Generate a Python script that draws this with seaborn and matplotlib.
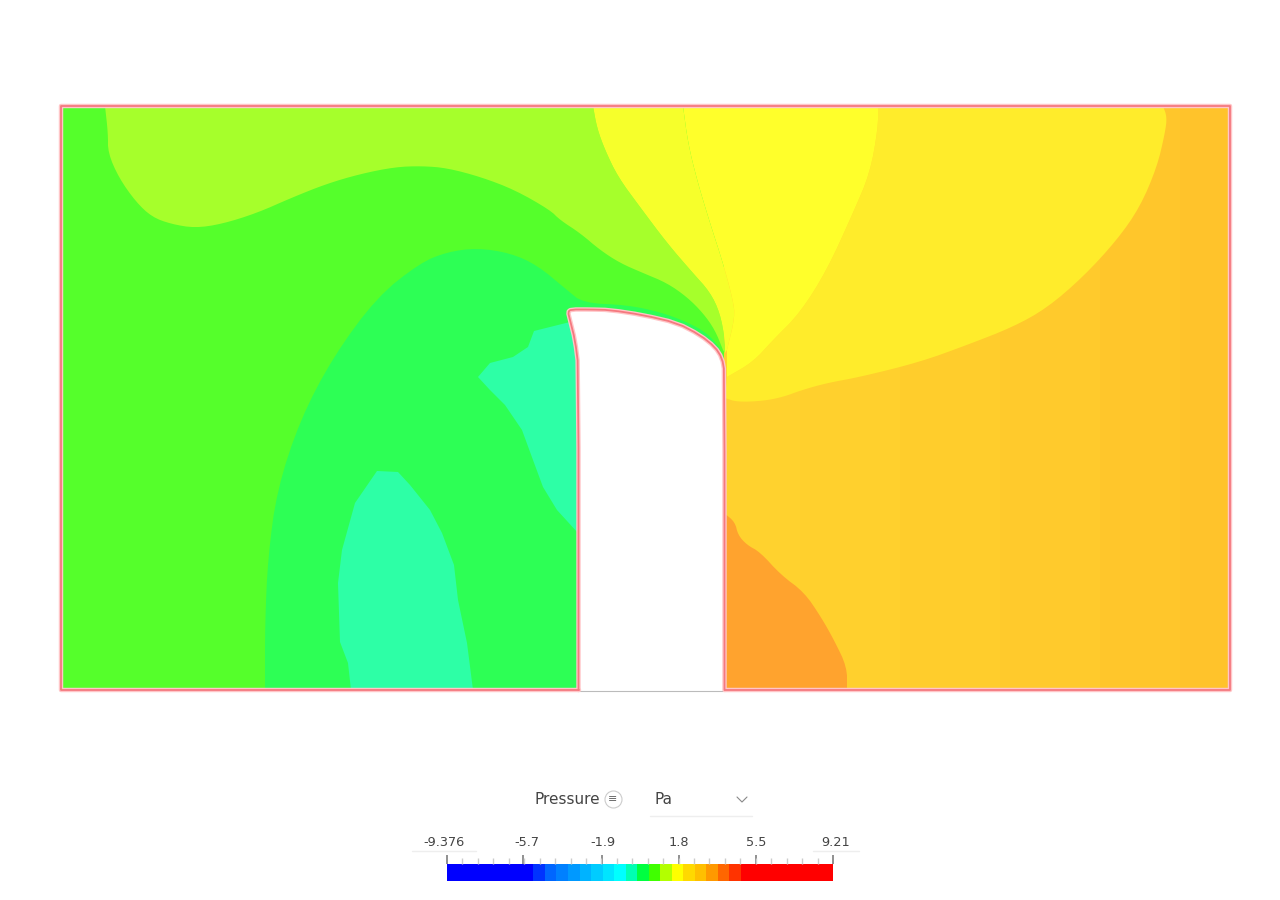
import numpy as np
import matplotlib.pyplot as plt
from matplotlib.colors import ListedColormap
import seaborn as sns

sns.set_theme(style="white")
plt.rcParams['font.family'] = ['DejaVu Sans']

# colour bar
tick_values = [-9.376, -5.7, -1.9, 1.8, 5.5, 9.21]
tick_labels = ["-9.376", "-5.7", "-1.9", "1.8", "5.5", "9.21"]
label_shift = [-3, 4, 1, 0, 0, 3]
bar_colors = ["#0000FF", "#0033FF", "#0066FF", "#0080FF", "#0099FF", "#00B3FF", "#00CCFF",
              "#00E5FF", "#00FFFF", "#00FFB3", "#00FF40", "#40FF00", "#B3FF00", "#FFFF00",
              "#FFD900", "#FFBF00", "#FF9900", "#FF6600", "#FF3300", "#FF0000"]
bar_cells = [15] + [2] * 18 + [16]

# pressure contours (pixels)
domain = [(61, 106), (1230, 106), (1230, 690), (61, 690)]
band_edges = [724, 800, 900, 1000, 1100, 1180, 1230]
band_colors = ["#FFD22E", "#FFD02D", "#FFCD2C", "#FFCA2C", "#FFC62B", "#FFC32B"]

lime_lower = [(105, 106), (108, 133), (108, 153), (119, 178), (136, 202), (152, 217), (171, 224),
              (195, 228), (222, 224), (257, 213), (291, 198), (326, 184), (360, 174), (395, 167),
              (422, 166), (447, 168), (481, 177), (515, 190), (550, 210), (560, 220), (580, 233),
              (600, 250), (620, 263), (643, 273), (667, 283), (687, 297), (703, 313), (715, 330),
              (723, 350)]
lime_upper = [(593, 106), (597, 128), (605, 150), (618, 177), (640, 207), (667, 243), (692, 272),
              (710, 292), (720, 313), (725, 340), (725, 353)]
pale_edge = [(683, 106), (688, 143), (697, 180), (710, 223), (723, 263), (733, 300), (735, 317),
             (727, 350)]
yellow_edge = [(878, 106), (878, 128), (870, 173), (853, 213), (827, 270), (800, 313), (773, 340),
               (753, 362), (727, 377)]
warm_edge = [(1163, 106), (1167, 117), (1165, 133), (1157, 167), (1140, 207), (1117, 240),
             (1083, 277), (1047, 308), (1013, 327), (967, 345), (920, 362), (860, 377), (827, 383),
             (802, 390), (783, 397), (763, 401), (737, 402), (725, 398)]
mid_green_edge = [(265, 690), (265, 623), (268, 557), (277, 490), (300, 420), (333, 357), (377, 297),
                  (420, 263), (447, 252), (477, 248), (510, 253), (537, 265), (567, 290), (583, 303),
                  (627, 305), (660, 312), (687, 322), (707, 333), (720, 348)]
teal_upper = [(578, 533), (557, 510), (543, 487), (533, 460), (522, 430), (505, 405), (490, 390),
              (478, 377), (490, 363), (513, 357), (528, 347), (534, 331), (570, 322), (578, 360)]
teal_lower = [(351, 690), (348, 663), (340, 642), (338, 583), (342, 550), (355, 503), (377, 471),
              (398, 472), (410, 485), (430, 510), (442, 533), (454, 565), (458, 600), (467, 643),
              (473, 690)]
orange_edge = [(724, 513), (735, 522), (738, 535), (747, 545), (760, 552), (781, 575), (804, 592),
               (821, 617), (834, 640), (847, 667), (847, 690)]
body = [(578.5, 690), (578.5, 367), (575, 340), (570, 320), (568, 312), (571, 309.5), (590, 309.5),
        (610, 310), (643, 315), (677, 323), (700, 335), (715, 347), (722, 358), (724.5, 372),
        (724.5, 690)]
outer_wall = [(578.5, 690), (61, 690), (61, 106), (1230, 106), (1230, 690), (724.5, 690)]


def smooth(points, rounds=2):
    # corner cutting, ends stay where they are
    pts = np.array(points, dtype=float)
    for _ in range(rounds):
        q = 0.75 * pts[:-1] + 0.25 * pts[1:]
        r = 0.25 * pts[:-1] + 0.75 * pts[1:]
        mid = np.empty((2 * len(q), 2))
        mid[0::2] = q
        mid[1::2] = r
        pts = np.vstack([pts[:1], mid, pts[-1:]])
    return [tuple(p) for p in pts]


fig = plt.figure(figsize=(12.8, 9), dpi=100)
ax = fig.add_axes([0, 0, 1, 1])
ax.set_xlim(0, 1280)
ax.set_ylim(900, 0)
ax.axis("off")


def patch(points, color, z=1):
    xs, ys = zip(*points)
    ax.fill(xs, ys, color=color, lw=0, zorder=z)


lime_low = smooth(lime_lower)
lime_up = smooth(lime_upper)
pale = smooth(pale_edge)
yel = smooth(yellow_edge)
warm = smooth(warm_edge)

patch(domain, "#55FF2B")
for i, col in enumerate(band_colors):
    x0, x1 = band_edges[i], band_edges[i + 1]
    patch([(x0, 106), (x1, 106), (x1, 690), (x0, 690)], col)
patch(lime_low + lime_up[::-1], "#A6FF2B", 2)
patch(smooth(mid_green_edge) + [(578, 690)], "#2DFF55", 2)
patch(teal_upper, "#2DFFA6", 3)
patch(teal_lower, "#2DFFA6", 3)
patch(yel + warm[::-1], "#FFEC2B", 3)
patch(lime_up + pale[::-1], "#F6FF2B", 3)
patch(pale + yel[::-1], "#FFFF2B", 3)
patch(smooth(orange_edge) + [(724, 690)], "#FFA32E", 3)
patch(smooth(body, 1), "white", 4)

# wall outline, soft pink glow and darker core
for wall in (outer_wall, smooth(body, 1)):
    wx, wy = zip(*wall)
    ax.plot(wx, wy, color="#FFC6C8", lw=3.2, zorder=5, solid_joinstyle="round")
    ax.plot(wx, wy, color="#F5797F", lw=1.3, zorder=6, solid_joinstyle="round")
ax.plot([578, 724], [690.5, 690.5], color="#BBBBBB", lw=0.8, zorder=4)

# selector above the colour bar
ax.text(534, 799, "Pressure", fontsize=11, color="#444444", va="center", ha="left")
ax.scatter([613], [799], s=150, facecolor="white", edgecolor="#CCCCCC", lw=0.8)
ax.text(613, 799, "≡", fontsize=8, color="#666666", va="center", ha="center")
ax.text(655, 799, "Pa", fontsize=11, color="#444444", va="center", ha="left")
ax.plot([737, 742, 747], [797, 802, 797], color="#888888", lw=0.8)
ax.plot([650, 752], [816, 816], color="#EEEEEE", lw=1)
ax.plot([412, 476], [851, 851], color="#EEEEEE", lw=1)
ax.plot([813, 859], [851, 851], color="#EEEEEE", lw=1)

# colour bar itself, one heatmap row
bar_ax = fig.add_axes([447 / 1280, 1 - 881 / 900, 386 / 1280, 17 / 900])
cells = np.repeat(np.arange(len(bar_colors)), bar_cells).reshape(1, -1)
sns.heatmap(cells, ax=bar_ax, cbar=False, cmap=ListedColormap(bar_colors),
            xticklabels=False, yticklabels=False)

scale_ax = bar_ax.twiny()
scale_ax.set_xlim(tick_values[0], tick_values[-1])
scale_ax.set_xticks(tick_values)
scale_ax.set_xticklabels([])
scale_ax.set_xticks(np.linspace(tick_values[0], tick_values[-1], 26), minor=True)
scale_ax.tick_params(axis="x", which="major", length=6.5, width=1.3, color="#888888", top=True, pad=0)
scale_ax.tick_params(axis="x", which="minor", length=4, width=1.0, color="#CCCCCC", top=True)
for s in scale_ax.spines.values():
    s.set_visible(False)
for s in bar_ax.spines.values():
    s.set_visible(False)
for v, lab, dx in zip(tick_values, tick_labels, label_shift):
    px = 447 + (v - tick_values[0]) / (tick_values[-1] - tick_values[0]) * 386
    ax.text(px + dx, 843, lab, fontsize=9.3, color="#444444", ha="center", va="center")

fig.savefig("out.png", dpi=100)
